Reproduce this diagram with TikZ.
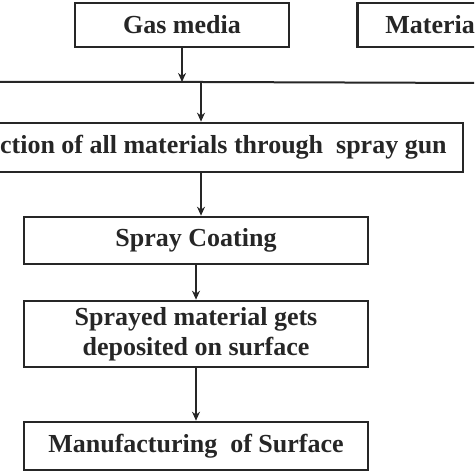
\documentclass[tikz,border=0pt]{standalone}
\usepackage{fontspec}
\setmainfont{Liberation Serif}
\usetikzlibrary{arrows.meta}

\begin{document}
\begin{tikzpicture}[
    x=0.5pt, y=-0.5pt,
    stage/.style={
      rectangle, draw=black!85, line width=1.3pt, align=center,
      font=\fontsize{13}{15}\selectfont\bfseries, text=black!85,
      inner sep=0pt,
    },
    flow/.style={-{Stealth[length=4.5pt,width=4pt]}, line width=1pt, draw=black!85},
    >=Stealth
  ]
  \useasboundingbox (0,0) rectangle (474,474);
  \clip (0,0) rectangle (474,474);

  %% --- inputs ---
  \node[stage, minimum width=107pt, minimum height=22pt] (gas) at (182,25) {Gas media};
  \node[stage, anchor=west, inner xsep=14pt, minimum height=22pt] (mat) at (356,25) {Materials};

  %% --- feed line ---
  \coordinate (busL) at (-10,82);
  \coordinate (busR) at (484,83);
  \coordinate (join) at (201,82);
  \draw[flow] (gas.south) -- (gas.south |- join);
  \draw[line width=1pt, black!85] (busL) -- (join) -- (busR);

  %% --- process chain ---
  \node[stage, minimum width=262pt, minimum height=24.5pt] (inject) at (201,147.5)
    {Injection of all materials through~ spray gun};
  \node[stage, minimum width=172pt, minimum height=23.5pt] (coat) at (196,240.5)
    {Spray Coating};
  \node[stage, minimum width=172pt, minimum height=33pt] (depo) at (196,334)
    {Sprayed material gets\\deposited on surface};
  \node[stage, minimum width=172pt, minimum height=24pt] (surf) at (196,446)
    {Manufacturing~ of Surface};

  %% --- arrows ---
  \draw[flow] (join) -- (inject.north -| join);
  \draw[flow] (inject.south) -- (inject.south |- coat.north);
  \draw[flow] (coat) -- (depo);
  \draw[flow] (depo) -- (surf);
\end{tikzpicture}
\end{document}
